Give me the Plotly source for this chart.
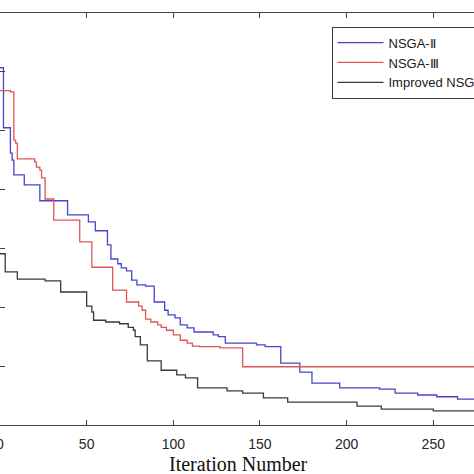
import plotly.graph_objects as go

# Iteration numbers and objective values (y in axis tick units)
nsga2_x = [0, 2, 6, 7, 8, 14, 23, 39, 51, 55, 62, 64, 68, 70, 73, 76, 79, 84, 89, 95,
           97, 101, 104, 108, 112, 123, 126, 130, 148, 153, 162, 173, 180, 196, 219, 228, 241, 252, 264, 300]
nsga2_y = [6.07, 5.05, 4.62, 4.50, 4.25, 4.08, 3.81, 3.57, 3.45, 3.30, 3.06, 2.82, 2.74, 2.67, 2.62, 2.46,
           2.38, 2.36, 2.09, 1.95, 1.87, 1.82, 1.70, 1.65, 1.58, 1.53, 1.50, 1.39, 1.36, 1.33, 1.05, 0.90,
           0.71, 0.63, 0.61, 0.54, 0.51, 0.48, 0.44, 0.44]

nsga3_x = [0, 6, 8, 9, 10, 20, 21, 23, 24, 26, 31, 46, 53, 65, 73, 80, 82, 84, 87, 91,
           93, 96, 100, 104, 108, 111, 115, 127, 140, 300]
nsga3_y = [5.68, 5.66, 4.84, 4.79, 4.52, 4.47, 4.38, 4.33, 4.20, 3.84, 3.48, 3.11, 2.68, 2.29, 2.09, 2.02,
           1.95, 1.80, 1.75, 1.70, 1.66, 1.61, 1.53, 1.44, 1.39, 1.34, 1.33, 1.31, 0.99, 0.99]

improved_x = [0, 3, 10, 26, 35, 50, 53, 54, 61, 69, 74, 77, 78, 81, 85, 93, 102, 107, 114, 131,
              140, 152, 166, 206, 220, 250, 300]
improved_y = [2.91, 2.60, 2.48, 2.45, 2.26, 2.02, 1.92, 1.78, 1.75, 1.72, 1.66, 1.61, 1.50, 1.36, 1.09,
              0.93, 0.85, 0.80, 0.63, 0.58, 0.54, 0.46, 0.39, 0.32, 0.27, 0.24, 0.24]

x_ticks = [0, 50, 100, 150, 200, 250, 300]
y_ticks = [0, 1, 2, 3, 4, 5, 6, 7]

fig = go.Figure()
fig.add_trace(go.Scatter(x=nsga2_x, y=nsga2_y, mode="lines", line_shape="hv", name="NSGA-Ⅱ",
                         line=dict(color="#4646c8", width=1.3)))
fig.add_trace(go.Scatter(x=nsga3_x, y=nsga3_y, mode="lines", line_shape="hv", name="NSGA-Ⅲ",
                         line=dict(color="#e05558", width=1.3)))
fig.add_trace(go.Scatter(x=improved_x, y=improved_y, mode="lines", line_shape="hv", name="Improved NSGA-Ⅲ",
                         line=dict(color="#3a3a3a", width=1.3)))

fig.update_layout(
    width=474, height=474,
    margin=dict(l=0, r=0, t=13, b=49, autoexpand=False),
    paper_bgcolor="white", plot_bgcolor="white",
    showlegend=True,
    legend=dict(x=331.5 / 474, y=0.967, xanchor="left", yanchor="top",
                bordercolor="#3a3a3a", borderwidth=1, bgcolor="white",
                font=dict(family="Liberation Sans, Arial", size=13, color="#1a1a1a"),
                itemwidth=46, tracegroupgap=0),
    font=dict(family="Liberation Sans, Arial", size=14, color="#262626"),
)
fig.update_xaxes(range=[0, 273.5], tickvals=x_ticks, ticks="inside", ticklen=5, tickcolor="#444",
                 showline=True, linecolor="#444", linewidth=1, mirror="ticks",
                 showgrid=False, zeroline=False, ticklabeloverflow="allow", ticklabelstandoff=6,
                 tickfont=dict(family="Liberation Sans, Arial", size=14, color="#262626"))
fig.update_yaxes(range=[0, 7], tickvals=y_ticks, ticks="inside", ticklen=5, tickcolor="#444",
                 showline=True, linecolor="#444", linewidth=1, mirror=False,
                 showgrid=False, zeroline=False, showticklabels=False)

fig.add_annotation(text="Iteration Number", xref="paper", yref="paper",
                   x=238 / 474, y=-0.095, xanchor="center", yanchor="middle", showarrow=False,
                   font=dict(family="Liberation Serif, Times New Roman", size=20, color="#111"))

fig.write_html("out.html")
